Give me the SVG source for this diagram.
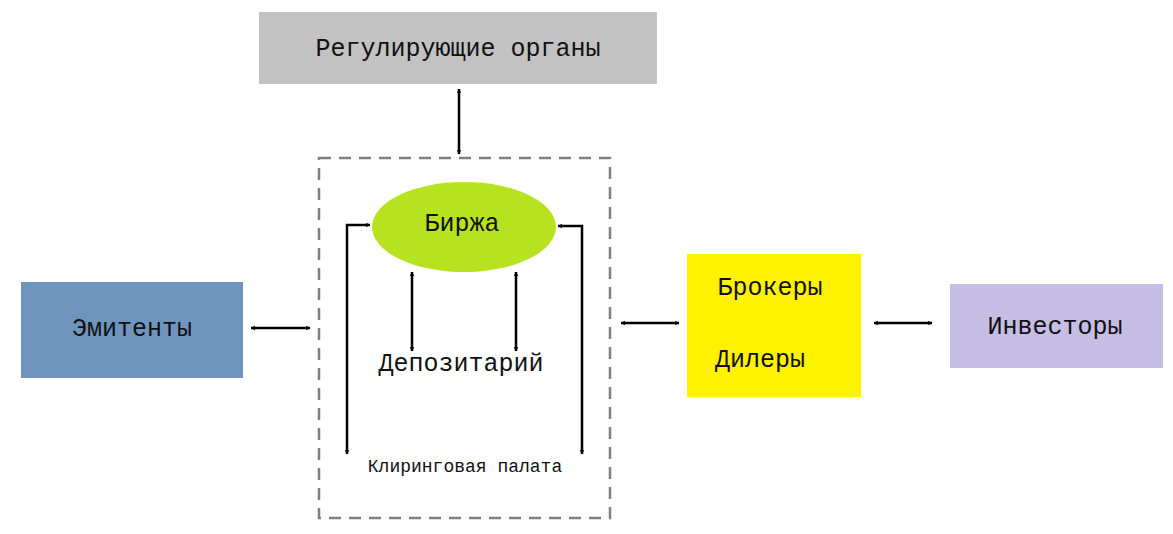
<svg xmlns="http://www.w3.org/2000/svg" width="1173" height="534" viewBox="0 0 1173 534">
<defs>
<marker id="a" viewBox="0 0 10 10" refX="9" refY="5" markerWidth="5" markerHeight="5" orient="auto-start-reverse" markerUnits="userSpaceOnUse"><path d="M0,0 L10,5 L0,10 L3,5 Z" fill="#000"/></marker>
<style>
text{font-family:"Liberation Mono","DejaVu Sans Mono",monospace;fill:#111;text-anchor:middle}
.c{stroke:#000;stroke-width:2.5;fill:none;marker-start:url(#a);marker-end:url(#a)}
</style>
</defs>
<rect width="1173" height="534" fill="#fff"/>
<g id="reg"><rect x="259" y="12" width="398" height="72" fill="#c2c2c2"/><text x="458" y="56" font-size="25">Регулирующие органы</text></g>
<g id="frame"><rect x="319" y="158" width="291" height="360" fill="none" stroke="#808080" stroke-width="2.5" stroke-dasharray="12,8"/></g>
<g id="birzha"><ellipse cx="464" cy="227" rx="92" ry="45" fill="#b7e21f"/><text x="462" y="231" font-size="25">Биржа</text></g>
<g id="dep"><text x="461" y="371" font-size="25">Депозитарий</text></g>
<g id="klir"><text x="465" y="472" font-size="18">Клиринговая палата</text></g>
<g id="emit"><rect x="21" y="282" width="222" height="96" fill="#6f95bf"/><text x="132" y="336" font-size="25">Эмитенты</text></g>
<g id="brok"><rect x="687" y="254" width="174" height="143" fill="#fff200"/><text x="770" y="295" font-size="25">Брокеры</text><text x="760" y="367" font-size="25">Дилеры</text></g>
<g id="inv"><rect x="950" y="284" width="213" height="84" fill="#c5bde3"/><text x="1055" y="334" font-size="25">Инвесторы</text></g>
<g id="connectors">
<line class="c" x1="459" y1="89" x2="459" y2="154"/>
<line class="c" x1="412" y1="272" x2="412" y2="351"/>
<line class="c" x1="516" y1="272" x2="516" y2="351"/>
<polyline class="c" points="370,225 347,225 347,454"/>
<polyline class="c" points="558,226 582,226 582,454"/>
<line class="c" x1="251" y1="328" x2="310" y2="328"/>
<line class="c" x1="621" y1="323" x2="679" y2="323"/>
<line class="c" x1="874" y1="323" x2="932" y2="323"/>
</g>
</svg>
